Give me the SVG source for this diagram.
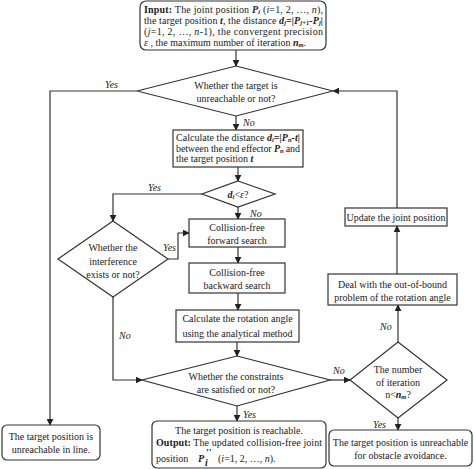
<svg xmlns="http://www.w3.org/2000/svg" width="474" height="469" viewBox="0 0 474 469">
<style>
text{font-family:"Liberation Serif","Times New Roman",serif;font-size:10px;fill:#222}
.c{text-anchor:middle}
.lbl{font-style:italic;font-size:10px}
.b{font-weight:bold}
.bi{font-weight:bold;font-style:italic}
.i{font-style:italic}
.box{fill:#fff;stroke:#333;stroke-width:1.2}
.ln{fill:none;stroke:#333;stroke-width:1.2}
</style>
<defs>
<marker id="ah" viewBox="0 0 10 10" refX="9" refY="5" markerWidth="7" markerHeight="7" orient="auto" markerUnits="userSpaceOnUse">
<path d="M0,0 L10,5 L0,10 z" fill="#222"/>
</marker>
</defs>
<rect width="474" height="469" fill="#fff"/>
<g id="connectors">
<path class="ln" d="M236,50 V66" marker-end="url(#ah)"/>
<path class="ln" d="M137,91 H50 V425" marker-end="url(#ah)"/>
<path class="ln" d="M236,116 V130" marker-end="url(#ah)"/>
<path class="ln" d="M238,167 V181" marker-end="url(#ah)"/>
<path class="ln" d="M202,194 H113 V221" marker-end="url(#ah)"/>
<path class="ln" d="M238,207 V219" marker-end="url(#ah)"/>
<path class="ln" d="M168,259 H178 V233 H189" marker-end="url(#ah)"/>
<path class="ln" d="M238,247 V263" marker-end="url(#ah)"/>
<path class="ln" d="M238,293 V310" marker-end="url(#ah)"/>
<path class="ln" d="M237,342 V356" marker-end="url(#ah)"/>
<path class="ln" d="M113,297 V380 H142" marker-end="url(#ah)"/>
<path class="ln" d="M237,406 V421" marker-end="url(#ah)"/>
<path class="ln" d="M330,380 H350" marker-end="url(#ah)"/>
<path class="ln" d="M398,418 V430" marker-end="url(#ah)"/>
<path class="ln" d="M398,342 V305" marker-end="url(#ah)"/>
<path class="ln" d="M397,274 V226" marker-end="url(#ah)"/>
<path class="ln" d="M397,208 V91 H333" marker-end="url(#ah)"/>
<text class="lbl" x="105" y="88">Yes</text>
<text class="lbl" x="243" y="126">No</text>
<text class="lbl" x="148" y="191">Yes</text>
<text class="lbl" x="250" y="217">No</text>
<text class="lbl" x="163" y="251">Yes</text>
<text class="lbl" x="119" y="339">No</text>
<text class="lbl" x="243" y="418">Yes</text>
<text class="lbl" x="333" y="374">No</text>
<text class="lbl" x="380" y="330">No</text>
<text class="lbl" x="373" y="428">Yes</text>
</g>
<g id="input">
<rect class="box" x="140" y="1" width="186" height="49" rx="6"/>
<text x="144" y="12.5" textLength="179" lengthAdjust="spacing"><tspan class="b">Input:</tspan> The joint position  <tspan class="bi">P</tspan><tspan class="bi" font-size="6.5" dy="1.5">i</tspan><tspan dy="-1.5"> (</tspan><tspan class="i">i</tspan>=1, 2, …,  <tspan class="i">n</tspan>),</text>
<text x="144" y="23.5" textLength="179" lengthAdjust="spacing">the target position <tspan class="bi">t</tspan>, the distance <tspan class="bi">d</tspan><tspan class="bi" font-size="6.5" dy="1.5">j</tspan><tspan class="bi" dy="-1.5">=|P</tspan><tspan class="bi" font-size="6.5" dy="1.5">j+1</tspan><tspan class="bi" dy="-1.5">-P</tspan><tspan class="bi" font-size="6.5" dy="1.5">j</tspan><tspan class="bi" dy="-1.5">|</tspan></text>
<text x="144" y="34.5" textLength="179" lengthAdjust="spacing">(<tspan class="i">j</tspan>=1, 2, …,    <tspan class="i">n</tspan>-1), the   convergent precision</text>
<text x="144" y="45.5"><tspan class="i">ε</tspan> , the maximum number of iteration <tspan class="bi">n</tspan><tspan class="bi" font-size="6.5" dy="1.5">m</tspan><tspan dy="-1.5">.</tspan></text>
</g>
<g id="d1">
<polygon class="box" points="236,66 333,91 236,116 137,91"/>
<text class="c" x="236" y="89">Whether the target is</text>
<text class="c" x="236" y="102">unreachable or not?</text>
</g>
<g id="calcdist">
<rect class="box" x="173" y="130" width="130" height="37"/>
<text x="176" y="140.5" textLength="124" lengthAdjust="spacing">Calculate the  distance <tspan class="bi">d</tspan><tspan class="bi" font-size="6.5" dy="1.5">i</tspan><tspan class="bi" dy="-1.5">=|P</tspan><tspan class="bi" font-size="6.5" dy="1.5">n</tspan><tspan class="bi" dy="-1.5">-t|</tspan></text>
<text x="176" y="151.5" textLength="124" lengthAdjust="spacing">between the end effector <tspan class="bi">P</tspan><tspan class="bi" font-size="6.5" dy="1.5">n</tspan><tspan dy="-1.5"> and</tspan></text>
<text x="176" y="162">the target position <tspan class="bi">t</tspan></text>
</g>
<g id="d2">
<polygon class="box" points="238,181 275,194 238,207 202,194"/>
<text class="c" x="238" y="197.5" font-size="9"><tspan class="bi">d</tspan><tspan class="bi" font-size="6.5" dy="1.5">i</tspan><tspan dy="-1.5">&lt;</tspan><tspan class="i">ε</tspan>?</text>
</g>
<g id="d3">
<polygon class="box" points="113,221 168,259 113,297 58,259"/>
<text class="c" x="113" y="251">Whether the</text>
<text class="c" x="113" y="264.5">interference</text>
<text class="c" x="113" y="277.5">exists or not?</text>
</g>
<g id="forward">
<rect class="box" x="189" y="219" width="96" height="28"/>
<text class="c" x="237" y="230.5" font-size="11">Collision-free</text>
<text class="c" x="237" y="244" font-size="11">forward search</text>
</g>
<g id="backward">
<rect class="box" x="189" y="263" width="96" height="30"/>
<text class="c" x="237" y="275.5" font-size="11">Collision-free</text>
<text class="c" x="237" y="289" font-size="11">backward search</text>
</g>
<g id="rotation">
<rect class="box" x="176" y="310" width="123" height="32"/>
<text class="c" x="237.5" y="322" font-size="10.3">Calculate the rotation angle</text>
<text class="c" x="237.5" y="336.5" font-size="10.3">using the analytical method</text>
</g>
<g id="d4">
<polygon class="box" points="237,356 330,380 237,406 142,380"/>
<text class="c" x="236" y="380">Whether the constraints</text>
<text class="c" x="236" y="393">are satisfied or not?</text>
</g>
<g id="d5">
<polygon class="box" points="398,342 447,380 398,418 350,380"/>
<text class="c" x="398" y="372.5">The number</text>
<text class="c" x="398" y="385.5">of iteration</text>
<text class="c" x="398" y="397.5">n&lt;<tspan class="bi">n</tspan><tspan class="bi" font-size="6.5" dy="1.5">m</tspan><tspan dy="-1.5">?</tspan></text>
</g>
<g id="deal">
<rect class="box" x="328" y="274" width="129" height="31"/>
<text class="c" x="392.5" y="287.5" font-size="10.6">Deal with the out-of-bound</text>
<text class="c" x="392.5" y="300.5" font-size="10.6">problem of the rotation angle</text>
</g>
<g id="update">
<rect class="box" x="345" y="208" width="102" height="18"/>
<text class="c" x="396" y="220.5">Update the joint position</text>
</g>
<g id="unreach-line">
<rect class="box" x="2" y="425" width="98" height="35" rx="5"/>
<text class="c" x="51" y="440" font-size="10.2">The target position is</text>
<text class="c" x="51" y="453" font-size="10.2">unreachable in line.</text>
</g>
<g id="reachable">
<rect class="box" x="152" y="421" width="174" height="47" rx="5"/>
<text class="c" x="239" y="433.5" font-size="10.5">The target position is reachable.</text>
<text x="156" y="446" font-size="10.5" textLength="166" lengthAdjust="spacing"><tspan class="b">Output:</tspan> The updated collision-free joint</text>
<text x="156" y="462" font-size="10.5">position</text>
<text x="198" y="462" class="bi" font-size="10.5">P</text>
<text x="206" y="456" class="bi" font-size="5.5">′′</text>
<text x="205" y="466" class="bi" font-size="5">i</text>
<text x="218" y="462" font-size="10.5">(<tspan class="i">i</tspan>=1, 2, …, <tspan class="i">n</tspan>).</text>
</g>
<g id="unreach-obstacle">
<rect class="box" x="329" y="430" width="143" height="36" rx="5"/>
<text class="c" x="400.5" y="446" font-size="10.5">The target position is unreachable</text>
<text class="c" x="400.5" y="458.5" font-size="10.5">for obstacle avoidance.</text>
</g>
</svg>
